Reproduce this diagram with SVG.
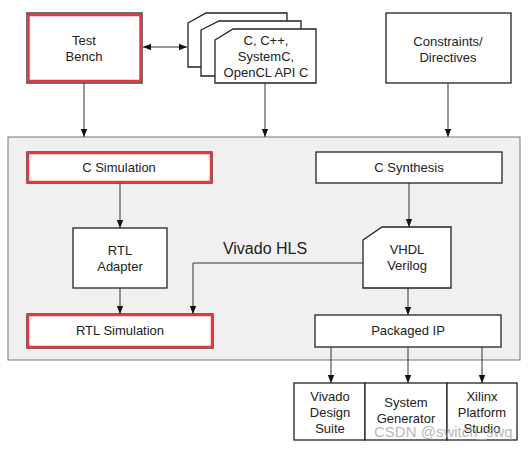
<svg xmlns="http://www.w3.org/2000/svg" width="529" height="449" viewBox="0 0 529 449">
<style>
.box{fill:#fff;stroke:#222;stroke-width:1.3}
.red{fill:none;stroke:#e8383d;stroke-width:2.5}
.t{font-family:"Liberation Sans",Arial,sans-serif;font-size:13px;fill:#222;text-anchor:middle}
.ln{fill:none;stroke:#333;stroke-width:1}
</style>
<defs>
<marker id="ah" viewBox="0 0 8 8" refX="8" refY="4" markerWidth="8" markerHeight="8" markerUnits="userSpaceOnUse" orient="auto-start-reverse">
<path d="M0,0.8 L8,4 L0,7.2 Z" fill="#111"/>
</marker>
</defs>
<rect width="529" height="449" fill="#fff"/>
<g id="hls-region">
<rect x="8" y="137" width="512" height="223" fill="#f0f0f0" stroke="#777" stroke-width="1"/>
<text x="265" y="254" style="font-family:'Liberation Sans',Arial,sans-serif;font-size:16px;fill:#222" text-anchor="middle">Vivado HLS</text>
</g>
<g id="test-bench">
<rect class="box" x="27" y="13" width="115" height="70"/>
<rect class="red" x="28.5" y="15" width="112" height="66"/>
<text class="t" x="84" y="45">Test</text>
<text class="t" x="84" y="61">Bench</text>
</g>
<g id="source-files">
<path class="box" d="M188,23 L206,13 L287,13 L287,67 L188,67 Z"/>
<path class="box" d="M201,30 L219,21 L301,21 L301,76 L201,76 Z"/>
<path class="box" d="M215,40 L233,29 L316,29 L316,83 L215,83 Z"/>
<text class="t" x="266" y="45">C, C++,</text>
<text class="t" x="266" y="61">SystemC,</text>
<text class="t" x="266" y="77">OpenCL API C</text>
</g>
<g id="constraints">
<rect class="box" x="386" y="13" width="125" height="70"/>
<text class="t" x="448" y="46">Constraints/</text>
<text class="t" x="448" y="62">Directives</text>
</g>
<g id="c-simulation">
<rect class="box" x="27" y="152" width="185" height="31"/>
<rect class="red" x="28" y="153" width="183" height="29"/>
<text class="t" x="119" y="172">C Simulation</text>
</g>
<g id="rtl-adapter">
<rect class="box" x="73" y="228" width="94" height="60"/>
<text class="t" x="120" y="255">RTL</text>
<text class="t" x="120" y="271">Adapter</text>
</g>
<g id="rtl-simulation">
<rect class="box" x="27" y="314" width="186" height="34"/>
<rect class="red" x="28" y="315" width="184" height="32"/>
<text class="t" x="120" y="335">RTL Simulation</text>
</g>
<g id="c-synthesis">
<rect class="box" x="316" y="152" width="186" height="31"/>
<text class="t" x="409" y="172">C Synthesis</text>
</g>
<g id="vhdl-verilog">
<path class="box" d="M363,240 L382,227 L451,227 L451,288 L363,288 Z"/>
<text class="t" x="407" y="254">VHDL</text>
<text class="t" x="407" y="270">Verilog</text>
</g>
<g id="packaged-ip">
<rect class="box" x="315" y="315" width="186" height="32"/>
<text class="t" x="408" y="335">Packaged IP</text>
</g>
<g id="vivado-design-suite">
<rect class="box" x="294" y="383" width="71" height="57"/>
<text class="t" x="330" y="401">Vivado</text>
<text class="t" x="330" y="417">Design</text>
<text class="t" x="330" y="433">Suite</text>
</g>
<g id="system-generator">
<rect class="box" x="365" y="383" width="82" height="57"/>
<text class="t" x="406" y="407">System</text>
<text class="t" x="406" y="423">Generator</text>
</g>
<g id="xilinx-platform-studio">
<rect class="box" x="447" y="383" width="70" height="57"/>
<text class="t" x="482" y="401">Xilinx</text>
<text class="t" x="482" y="417">Platform</text>
<text class="t" x="482" y="433">Studio</text>
</g>
<g id="connectors">
<line class="ln" x1="143" y1="47" x2="187" y2="47" marker-start="url(#ah)" marker-end="url(#ah)"/>
<line class="ln" x1="84" y1="83" x2="84" y2="137" marker-end="url(#ah)"/>
<line class="ln" x1="265" y1="83" x2="265" y2="137" marker-end="url(#ah)"/>
<line class="ln" x1="448" y1="83" x2="448" y2="137" marker-end="url(#ah)"/>
<line class="ln" x1="120" y1="183" x2="120" y2="228" marker-end="url(#ah)"/>
<line class="ln" x1="120" y1="288" x2="120" y2="314" marker-end="url(#ah)"/>
<polyline class="ln" points="363,263 193,263 193,314" marker-end="url(#ah)"/>
<line class="ln" x1="409" y1="183" x2="409" y2="227" marker-end="url(#ah)"/>
<line class="ln" x1="408" y1="288" x2="408" y2="315" marker-end="url(#ah)"/>
<line class="ln" x1="331" y1="347" x2="331" y2="383" marker-end="url(#ah)"/>
<line class="ln" x1="408" y1="347" x2="408" y2="383" marker-end="url(#ah)"/>
<line class="ln" x1="482" y1="347" x2="482" y2="383" marker-end="url(#ah)"/>
</g>
<text x="374" y="437" style="font-family:'Liberation Sans',Arial,sans-serif;font-size:15px;fill:#aaa;fill-opacity:0.85">CSDN @switch_swq</text>
</svg>
